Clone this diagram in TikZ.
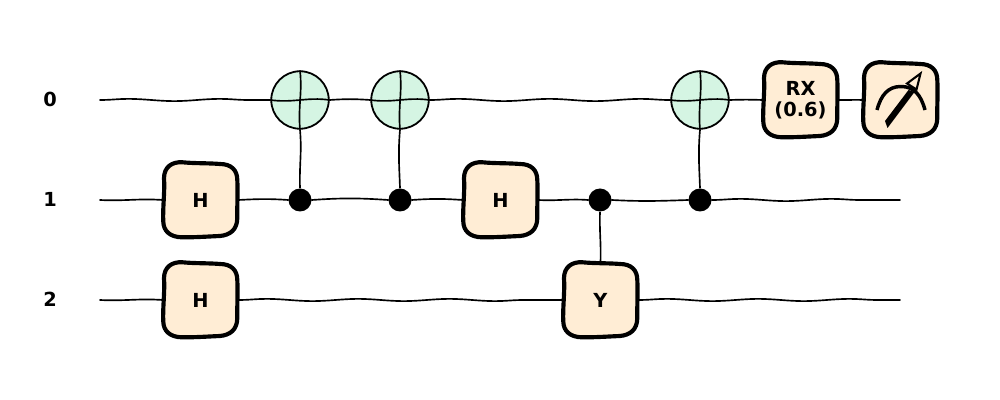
\documentclass[tikz,border=0pt]{standalone}
\usepackage{fontspec}
\setmainfont{DejaVu Sans}
\usepackage{xcolor}
\usetikzlibrary{calc,decorations.pathmorphing}
\definecolor{gatefill}{HTML}{FFEDD5}
\definecolor{targetfill}{HTML}{D5F5E3}
\tikzset{
  wire/.style={draw=black, line width=1.2pt, line cap=round},
  wavy/.style={wire, decorate, decoration={snake, segment length=66pt, amplitude=0.8pt}},
  ctrlline/.style={draw=black, line width=1.2pt},
  gateline/.style={draw=black, fill=gatefill, line width=3pt, line join=round},
  gatelabel/.style={font=\bfseries\fontsize{14}{15.5}\selectfont, align=center, inner sep=0pt, minimum size=0.75in},
  wirelabel/.style={font=\bfseries\fontsize{14}{15.5}\selectfont},
  target/.style={circle, draw=black, fill=targetfill, line width=1.3pt, inner sep=0pt, minimum size=0.575in},
  ctrl/.style={circle, fill=black, inner sep=0pt, minimum size=0.23in},
  gatebox/.pic={
    \draw[gateline] (-.36,.217) .. controls (-.36,.33) and (-.28,.385) .. (-.173,.377)
      .. controls (-.05,.365) and (.08,.37) .. (.2,.36)
      .. controls (.31,.36) and (.373,.3) .. (.373,.2)
      .. controls (.38,.07) and (.37,-.06) .. (.373,-.183)
      .. controls (.37,-.3) and (.3,-.35) .. (.2,-.36)
      .. controls (.08,-.365) and (-.06,-.375) .. (-.183,-.373)
      .. controls (-.3,-.37) and (-.365,-.31) .. (-.367,-.217)
      .. controls (-.375,-.1) and (-.35,.1) .. cycle;
  }
}
\begin{document}
\begin{tikzpicture}[x=1in,y=1in]
  \useasboundingbox (0,0) rectangle (10,4);

  % wire labels and free wire ends
  \foreach \n/\y in {0/3,1/2,2/1}{
    \node[wirelabel] (label\n) at (0.5,\y+.005) {\n};
    \coordinate (start\n) at (1,\y);
  }
  \coordinate (end1) at (9,2);
  \coordinate (end2) at (9,1);

  % gates
  \foreach \n/\x/\y/\t in {hA/2/2/H, hB/2/1/H, hC/5/2/H, yA/6/1/Y, rx/8/3/{RX\\(0.6)}, meter/9/3/{}}{
    \pic at (\x,\y) {gatebox};
    \node[gatelabel] (\n) at (\x+.005,\y) {\t};
  }

  % targets and controls
  \foreach \n/\x in {A/3, B/4, C/7}{
    \node[target] (t\n) at (\x,3) {};
    \draw[ctrlline] (t\n.north) to[out=-84,in=95] (t\n.south);
    \draw[ctrlline] (t\n.west) to[out=-8,in=172] (t\n.east);
  }
  \foreach \n/\x in {A/3, B/4, D/6, C/7}{
    \node[ctrl] (c\n) at (\x,2) {};
  }

  % wires
  \draw[wavy] (start0) -- (tA.west);
  \draw[wire] (tA.east) to[out=4,in=176] (tB.west);
  \draw[wavy] (tB.east) -- (tC.west);
  \draw[wire] (tC.east) to[out=2,in=178] (rx.west);
  \draw[wire] (rx.east) to[out=-1,in=178] (meter.west);

  \draw[wire] (start1) to[out=-3,in=176] (hA.west);
  \draw[wire] (hA.east) to[out=3,in=176] (cA.west);
  \draw[wire] (cA.east) to[out=4,in=176] (cB.west);
  \draw[wire] (cB.east) to[out=4,in=176] (hC.west);
  \draw[wire] (hC.east) to[out=-3,in=176] (cD.west);
  \draw[wire] (cD.east) to[out=-3,in=182] (cC.west);
  \draw[wavy] (cC.east) -- (end1);

  \draw[wire] (start2) to[out=-3,in=176] (hB.west);
  \draw[wavy] (hB.east) -- (yA.west);
  \draw[wavy] (yA.east) -- (end2);

  % control lines
  \draw[ctrlline] (tA.south) to[out=-85,in=92] (cA.north);
  \draw[ctrlline] (tB.south) to[out=-95,in=92] (cB.north);
  \draw[ctrlline] (tC.south) to[out=-95,in=92] (cC.north);
  \draw[ctrlline] (cD.south) to[out=-92,in=88] (yA.north);

  % meter symbol
  \coordinate (dialL) at ($(meter)+(-.235,-.1)$);
  \coordinate (dialR) at ($(meter)+(.245,-.1)$);
  \coordinate (tail) at ($(meter)+(-.13,-.28)$);
  \coordinate (tip) at ($(meter)+(.2,.265)$);
  \draw[line width=2.5pt] (dialL) .. controls +(.04,.15) and +(-.13,0) .. ($(meter)+(.005,.135)$) .. controls +(.13,0) and +(-.04,.15) .. (dialR);
  \fill[black] (tail) -- ++(-.025,.07) -- ($(meter)+(.08,.1)$) -- ($(meter)+(.14,.08)$) -- cycle;
  \draw[line width=1.5pt, line join=miter, fill=gatefill] (tip) -- ($(meter)+(.065,.165)$) -- ($(meter)+(.16,.105)$) -- cycle;
\end{tikzpicture}
\end{document}
